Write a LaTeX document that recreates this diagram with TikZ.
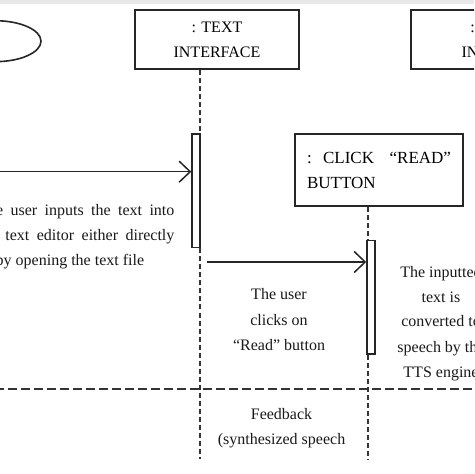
\documentclass[tikz,border=0pt]{standalone}
\usepackage{fontspec}
\setmainfont{Liberation Serif}
\usepackage{xcolor}
\usetikzlibrary{shapes.geometric, arrows.meta, positioning}

\begin{document}
\begin{tikzpicture}[x=0.5pt, y=-0.5pt,
  object/.style={draw=black!85, line width=1pt, align=center, inner sep=0pt, font=\fontsize{8}{12.5}\selectfont},
  bar/.style={draw=black!85, fill=white, line width=0.75pt, minimum width=4pt, inner sep=0pt},
  lifeline/.style={draw=black!80, line width=0.6pt, dash pattern=on 2.5pt off 1.5pt},
  divider/.style={draw=black!80, line width=0.7pt, dash pattern=on 4.5pt off 2pt},
  msg/.style={-{Straight Barb[length=5.5pt, width=10.5pt]}, draw=black!85, line width=0.75pt},
  note/.style={text=black!90, font=\fontsize{8}{12.5}\selectfont, inner sep=0pt, anchor=base}
]
\useasboundingbox (0,0) rectangle (474,474);
\clip (0,0) rectangle (474,474);
\fill[gray!18] (0,0) rectangle (474,4.5);

% objects
\node[draw=black!85, line width=0.8pt, ellipse, minimum width=46pt, minimum height=20.5pt] (user) at (-5,41.2) {};
\node[object, minimum width=82pt, minimum height=29.5pt] (textif) at (217,40) {: TEXT\\INTERFACE};
\node[object, minimum width=94pt, minimum height=29.5pt] (speechif) at (505,40) {: SPEECH\\INTERFACE};
\node[object, text width=72pt, align=left, inner xsep=5.9pt, minimum height=35.8pt,
      font=\fontsize{8.5}{12.5}\selectfont] (click) at (379,170) {:\ \ CLICK\hfill“READ”\\BUTTON};

% lifelines and activations
\node[bar, minimum height=56.75pt] (bar1) at (196,191) {};
\node[bar, minimum height=56.65pt] (bar2) at (371,297.4) {};
\coordinate (end1) at (200,459);
\coordinate (end2) at (368,459);
\draw[lifeline] (textif.south -| end1) -- (bar1.north -| end1);
\draw[lifeline] (bar1.south -| end1) -- (end1);
\draw[lifeline] (click.south -| end2) -- (bar2.north -| end2);
\draw[lifeline] (bar2.south -| end2) -- (end2);
\node[bar, minimum height=56.75pt] at (bar1) {};
\node[bar, minimum height=56.65pt] at (bar2) {};

% messages
\coordinate (m1) at (-5,171.7);
\coordinate (m2) at (207,262);
\draw[msg] (m1) -- (m1 -| bar1.west);
\draw[msg] (m2) -- (m2 -| bar2.west);

\node[note, text width=98pt, align=justify, anchor=base west] (input) at (-22,216)
  {The user inputs the text into\linebreak the text editor either directly\linebreak or by opening the text file};
\node[note, align=center] (clicks) at (279,350) {The user\\clicks on\\“Read” button};
\node[note, align=center] (tts) at (441,377) {The inputted\\text is\\converted to\\speech by the\\TTS engine};

\draw[divider] (-5,389) -- (480,389);
\node[note, align=center] (feedback) at (281.5,444) {Feedback\\(synthesized speech};
\end{tikzpicture}
\end{document}
